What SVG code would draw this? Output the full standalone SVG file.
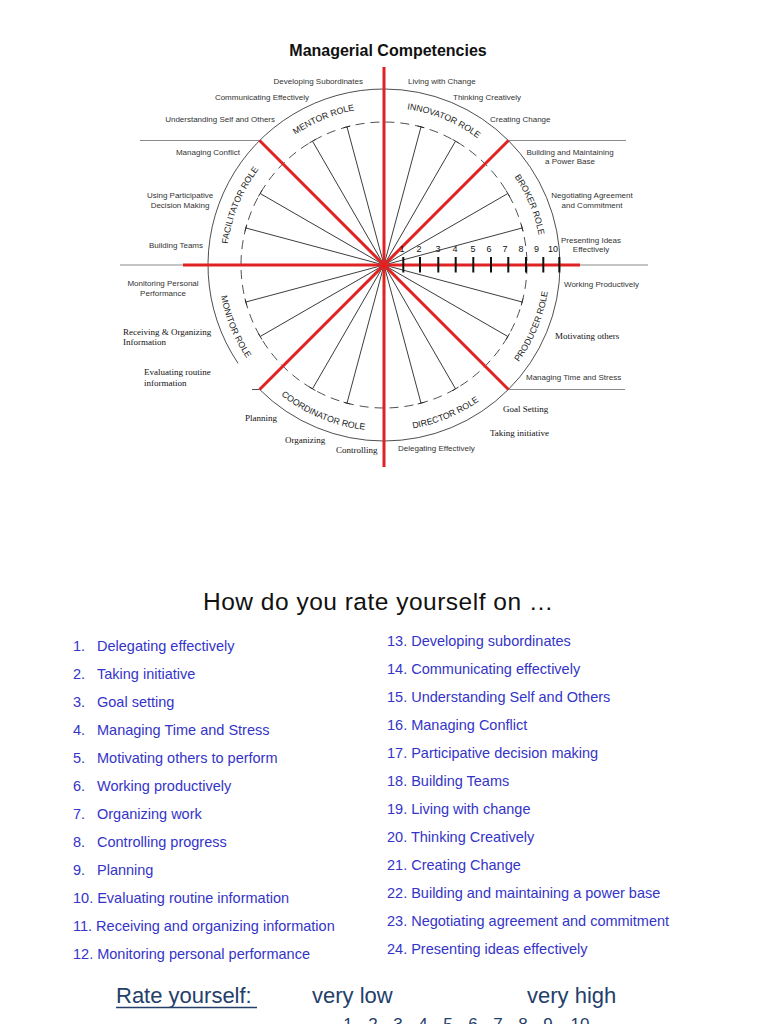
<svg xmlns="http://www.w3.org/2000/svg" xmlns:xlink="http://www.w3.org/1999/xlink" width="768" height="1024" viewBox="0 0 768 1024">
<style>
.lbl{font-family:"Liberation Sans",Arial,sans-serif;font-size:8px;fill:#333}
.ser{font-family:"Liberation Serif","Times New Roman",serif;font-size:9px;fill:#111}
.role{font-family:"Liberation Sans",Arial,sans-serif;font-size:8.8px;fill:#222}
.num{font-family:"Liberation Sans",Arial,sans-serif;font-size:9px;fill:#111}
.item{font-family:"Liberation Sans",Arial,sans-serif;font-size:14.5px;fill:#3434c8}
.rate{font-family:"Liberation Sans",Arial,sans-serif;fill:#24406a}
.red{stroke:#e02222;stroke-width:3;fill:none}
.spoke{stroke:#222;stroke-width:0.8;fill:none}
.gray{stroke:#8a8a8a;stroke-width:1;fill:none}
.tick{stroke:#111;stroke-width:2}
</style>
<defs>
<path id="pFac" d="M226.5,265 A157.5,157.5 0 0 1 272.6,153.6"/>
<path id="pMen" d="M272.6,153.6 A157.5,157.5 0 0 1 384,107.5"/>
<path id="pInn" d="M384,107.5 A157.5,157.5 0 0 1 495.4,153.6"/>
<path id="pBro" d="M495.4,153.6 A157.5,157.5 0 0 1 541.5,265"/>
<path id="pMon" d="M218,265 A166,166 0 0 0 266.6,382.4"/>
<path id="pCoo" d="M266.6,382.4 A166,166 0 0 0 384,431"/>
<path id="pDir" d="M384,431 A166,166 0 0 0 501.4,382.4"/>
<path id="pPro" d="M501.4,382.4 A166,166 0 0 0 550,265"/>
</defs>
<rect width="768" height="1024" fill="#fff"/>

<text x="388" y="56" text-anchor="middle" font-family="Liberation Sans,Arial,sans-serif" font-size="16" font-weight="bold" fill="#111">Managerial Competencies</text>

<g id="wheel">
<g id="guides">
<line class="gray" x1="120" y1="265" x2="648" y2="265"/>
<line class="gray" x1="140" y1="140.5" x2="259.5" y2="140.5"/>
<line class="gray" x1="508.5" y1="140.5" x2="626" y2="140.5"/>
<line class="gray" x1="508.5" y1="389.5" x2="625" y2="389.5"/>
</g>
<path class="spoke" d="M238.1,363.4 A176,176 0 0 1 384,89 A176,176 0 0 1 560,265 A176,176 0 0 1 384,441 A176,176 0 0 1 259.55,389.45"/>
<line class="spoke" x1="252" y1="389.5" x2="259.5" y2="389.5"/>
<circle cx="384" cy="265" r="143" fill="none" stroke="#222" stroke-width="0.8" stroke-dasharray="9 6"/>
<g id="spokes" transform="translate(384,265)">
<g transform="rotate(-15)"><line class="spoke" x1="0" y1="0" x2="143" y2="0"/><line class="spoke" x1="143" y1="-3.5" x2="143" y2="3.5"/></g>
<g transform="rotate(-30)"><line class="spoke" x1="0" y1="0" x2="143" y2="0"/><line class="spoke" x1="143" y1="-3.5" x2="143" y2="3.5"/></g>
<g transform="rotate(-60)"><line class="spoke" x1="0" y1="0" x2="143" y2="0"/><line class="spoke" x1="143" y1="-3.5" x2="143" y2="3.5"/></g>
<g transform="rotate(-75)"><line class="spoke" x1="0" y1="0" x2="143" y2="0"/><line class="spoke" x1="143" y1="-3.5" x2="143" y2="3.5"/></g>
<g transform="rotate(-105)"><line class="spoke" x1="0" y1="0" x2="143" y2="0"/><line class="spoke" x1="143" y1="-3.5" x2="143" y2="3.5"/></g>
<g transform="rotate(-120)"><line class="spoke" x1="0" y1="0" x2="143" y2="0"/><line class="spoke" x1="143" y1="-3.5" x2="143" y2="3.5"/></g>
<g transform="rotate(-150)"><line class="spoke" x1="0" y1="0" x2="143" y2="0"/><line class="spoke" x1="143" y1="-3.5" x2="143" y2="3.5"/></g>
<g transform="rotate(-165)"><line class="spoke" x1="0" y1="0" x2="143" y2="0"/><line class="spoke" x1="143" y1="-3.5" x2="143" y2="3.5"/></g>
<g transform="rotate(165)"><line class="spoke" x1="0" y1="0" x2="143" y2="0"/><line class="spoke" x1="143" y1="-3.5" x2="143" y2="3.5"/></g>
<g transform="rotate(150)"><line class="spoke" x1="0" y1="0" x2="143" y2="0"/><line class="spoke" x1="143" y1="-3.5" x2="143" y2="3.5"/></g>
<g transform="rotate(120)"><line class="spoke" x1="0" y1="0" x2="143" y2="0"/><line class="spoke" x1="143" y1="-3.5" x2="143" y2="3.5"/></g>
<g transform="rotate(105)"><line class="spoke" x1="0" y1="0" x2="143" y2="0"/><line class="spoke" x1="143" y1="-3.5" x2="143" y2="3.5"/></g>
<g transform="rotate(75)"><line class="spoke" x1="0" y1="0" x2="143" y2="0"/><line class="spoke" x1="143" y1="-3.5" x2="143" y2="3.5"/></g>
<g transform="rotate(60)"><line class="spoke" x1="0" y1="0" x2="143" y2="0"/><line class="spoke" x1="143" y1="-3.5" x2="143" y2="3.5"/></g>
<g transform="rotate(30)"><line class="spoke" x1="0" y1="0" x2="143" y2="0"/><line class="spoke" x1="143" y1="-3.5" x2="143" y2="3.5"/></g>
<g transform="rotate(15)"><line class="spoke" x1="0" y1="0" x2="143" y2="0"/><line class="spoke" x1="143" y1="-3.5" x2="143" y2="3.5"/></g>
</g>
<g id="red-axes">
<line class="red" x1="384" y1="67" x2="384" y2="467"/>
<line class="red" x1="183" y1="265" x2="580" y2="265"/>
<line class="red" x1="259.55" y1="140.55" x2="508.45" y2="389.45"/>
<line class="red" x1="508.45" y1="140.55" x2="259.55" y2="389.45"/>
</g>
<g id="scale">
<line class="tick" x1="403.3" y1="257" x2="403.3" y2="272.5"/>
<line class="tick" x1="420" y1="257" x2="420" y2="272.5"/>
<line class="tick" x1="438.3" y1="257" x2="438.3" y2="272.5"/>
<line class="tick" x1="455.7" y1="257" x2="455.7" y2="272.5"/>
<line class="tick" x1="473.3" y1="257" x2="473.3" y2="272.5"/>
<line class="tick" x1="491" y1="257" x2="491" y2="272.5"/>
<line class="tick" x1="508.3" y1="257" x2="508.3" y2="272.5"/>
<line class="tick" x1="526" y1="257" x2="526" y2="272.5"/>
<line class="tick" x1="543.3" y1="257" x2="543.3" y2="272.5"/>
<line class="tick" x1="559.3" y1="257" x2="559.3" y2="272.5"/>
<g class="num" text-anchor="middle">
<text x="402" y="252">1</text><text x="419" y="252">2</text><text x="438" y="252">3</text><text x="455" y="252">4</text><text x="473" y="252">5</text><text x="489" y="252">6</text><text x="505" y="252">7</text><text x="521" y="252">8</text><text x="536.5" y="252">9</text><text x="553" y="252">10</text>
</g>
</g>
<g id="roles" class="role">
<text><textPath xlink:href="#pFac" href="#pFac" startOffset="50%" text-anchor="middle">FACILITATOR ROLE</textPath></text>
<text><textPath xlink:href="#pMen" href="#pMen" startOffset="50%" text-anchor="middle">MENTOR ROLE</textPath></text>
<text><textPath xlink:href="#pInn" href="#pInn" startOffset="50%" text-anchor="middle">INNOVATOR ROLE</textPath></text>
<text><textPath xlink:href="#pBro" href="#pBro" startOffset="50%" text-anchor="middle">BROKER ROLE</textPath></text>
<text><textPath xlink:href="#pMon" href="#pMon" startOffset="50%" text-anchor="middle">MONITOR ROLE</textPath></text>
<text><textPath xlink:href="#pCoo" href="#pCoo" startOffset="50%" text-anchor="middle">COORDINATOR ROLE</textPath></text>
<text><textPath xlink:href="#pDir" href="#pDir" startOffset="50%" text-anchor="middle">DIRECTOR ROLE</textPath></text>
<text><textPath xlink:href="#pPro" href="#pPro" startOffset="50%" text-anchor="middle">PRODUCER ROLE</textPath></text>
</g>
<g id="competencies">
<text class="lbl" x="363" y="84" text-anchor="end">Developing Subordinates</text>
<text class="lbl" x="309" y="100" text-anchor="end">Communicating Effectively</text>
<text class="lbl" x="275" y="122" text-anchor="end">Understanding Self and Others</text>
<text class="lbl" x="240" y="155" text-anchor="end">Managing Conflict</text>
<text class="lbl" x="408" y="84">Living with Change</text>
<text class="lbl" x="453" y="100">Thinking Creatively</text>
<text class="lbl" x="490" y="122">Creating Change</text>
<text class="lbl" x="570" y="155" text-anchor="middle">Building and Maintaining</text>
<text class="lbl" x="570" y="164" text-anchor="middle">a Power Base</text>
<text class="lbl" x="592" y="198" text-anchor="middle">Negotiating Agreement</text>
<text class="lbl" x="592" y="208" text-anchor="middle">and Commitment</text>
<text class="lbl" x="591" y="243" text-anchor="middle">Presenting Ideas</text>
<text class="lbl" x="591" y="252" text-anchor="middle">Effectively</text>
<text class="lbl" x="180" y="198" text-anchor="middle">Using Participative</text>
<text class="lbl" x="180" y="208" text-anchor="middle">Decision Making</text>
<text class="lbl" x="203" y="248" text-anchor="end">Building Teams</text>
<text class="lbl" x="163" y="286" text-anchor="middle">Monitoring Personal</text>
<text class="lbl" x="163" y="296" text-anchor="middle">Performance</text>
<text class="lbl" x="564" y="287">Working Productively</text>
<text class="lbl" x="526" y="380">Managing Time and Stress</text>
<text class="lbl" x="398" y="451">Delegating Effectively</text>
<text class="ser" x="123" y="335">Receiving &amp; Organizing</text>
<text class="ser" x="123" y="345">Information</text>
<text class="ser" x="144" y="375">Evaluating routine</text>
<text class="ser" x="144" y="386">information</text>
<text class="ser" x="245" y="421">Planning</text>
<text class="ser" x="285" y="443">Organizing</text>
<text class="ser" x="336" y="453">Controlling</text>
<text class="ser" x="490" y="436">Taking initiative</text>
<text class="ser" x="503" y="412">Goal Setting</text>
<text class="ser" x="555" y="339">Motivating others</text>
</g>
</g>

<text x="203" y="610" font-family="Liberation Sans,Arial,sans-serif" font-size="24.5" letter-spacing="0.5" fill="#111">How do you rate yourself on …</text>

<g id="list-left" class="item">
<text x="73" y="650.5">1.</text><text x="97" y="650.5">Delegating effectively</text>
<text x="73" y="678.5">2.</text><text x="97" y="678.5">Taking initiative</text>
<text x="73" y="706.5">3.</text><text x="97" y="706.5">Goal setting</text>
<text x="73" y="734.5">4.</text><text x="97" y="734.5">Managing Time and Stress</text>
<text x="73" y="762.5">5.</text><text x="97" y="762.5">Motivating others to perform</text>
<text x="73" y="790.5">6.</text><text x="97" y="790.5">Working productively</text>
<text x="73" y="818.5">7.</text><text x="97" y="818.5">Organizing work</text>
<text x="73" y="846.5">8.</text><text x="97" y="846.5">Controlling progress</text>
<text x="73" y="874.5">9.</text><text x="97" y="874.5">Planning</text>
<text x="73" y="902.5">10. Evaluating routine information</text>
<text x="73" y="930.5">11. Receiving and organizing information</text>
<text x="73" y="958.5">12. Monitoring personal performance</text>
</g>
<g id="list-right" class="item">
<text x="387" y="646">13. Developing subordinates</text>
<text x="387" y="674">14. Communicating effectively</text>
<text x="387" y="702">15. Understanding Self and Others</text>
<text x="387" y="730">16. Managing Conflict</text>
<text x="387" y="758">17. Participative decision making</text>
<text x="387" y="786">18. Building Teams</text>
<text x="387" y="814">19. Living with change</text>
<text x="387" y="842">20. Thinking Creatively</text>
<text x="387" y="870">21. Creating Change</text>
<text x="387" y="898">22. Building and maintaining a power base</text>
<text x="387" y="926">23. Negotiating agreement and commitment</text>
<text x="387" y="954">24. Presenting ideas effectively</text>
</g>

<g id="rating" class="rate">
<text x="116" y="1003" font-size="22">Rate yourself:</text>
<line x1="116" y1="1007.5" x2="257" y2="1007.5" stroke="#24406a" stroke-width="1.6"/>
<text x="312" y="1003" font-size="22">very low</text>
<text x="527" y="1003" font-size="22">very high</text>
<g font-size="17" text-anchor="middle">
<text x="348" y="1030">1</text><text x="373" y="1030">2</text><text x="398" y="1030">3</text><text x="423" y="1030">4</text><text x="448" y="1030">5</text><text x="473" y="1030">6</text><text x="498" y="1030">7</text><text x="523" y="1030">8</text><text x="548" y="1030">9</text><text x="580" y="1030">10</text>
</g>
</g>
</svg>
